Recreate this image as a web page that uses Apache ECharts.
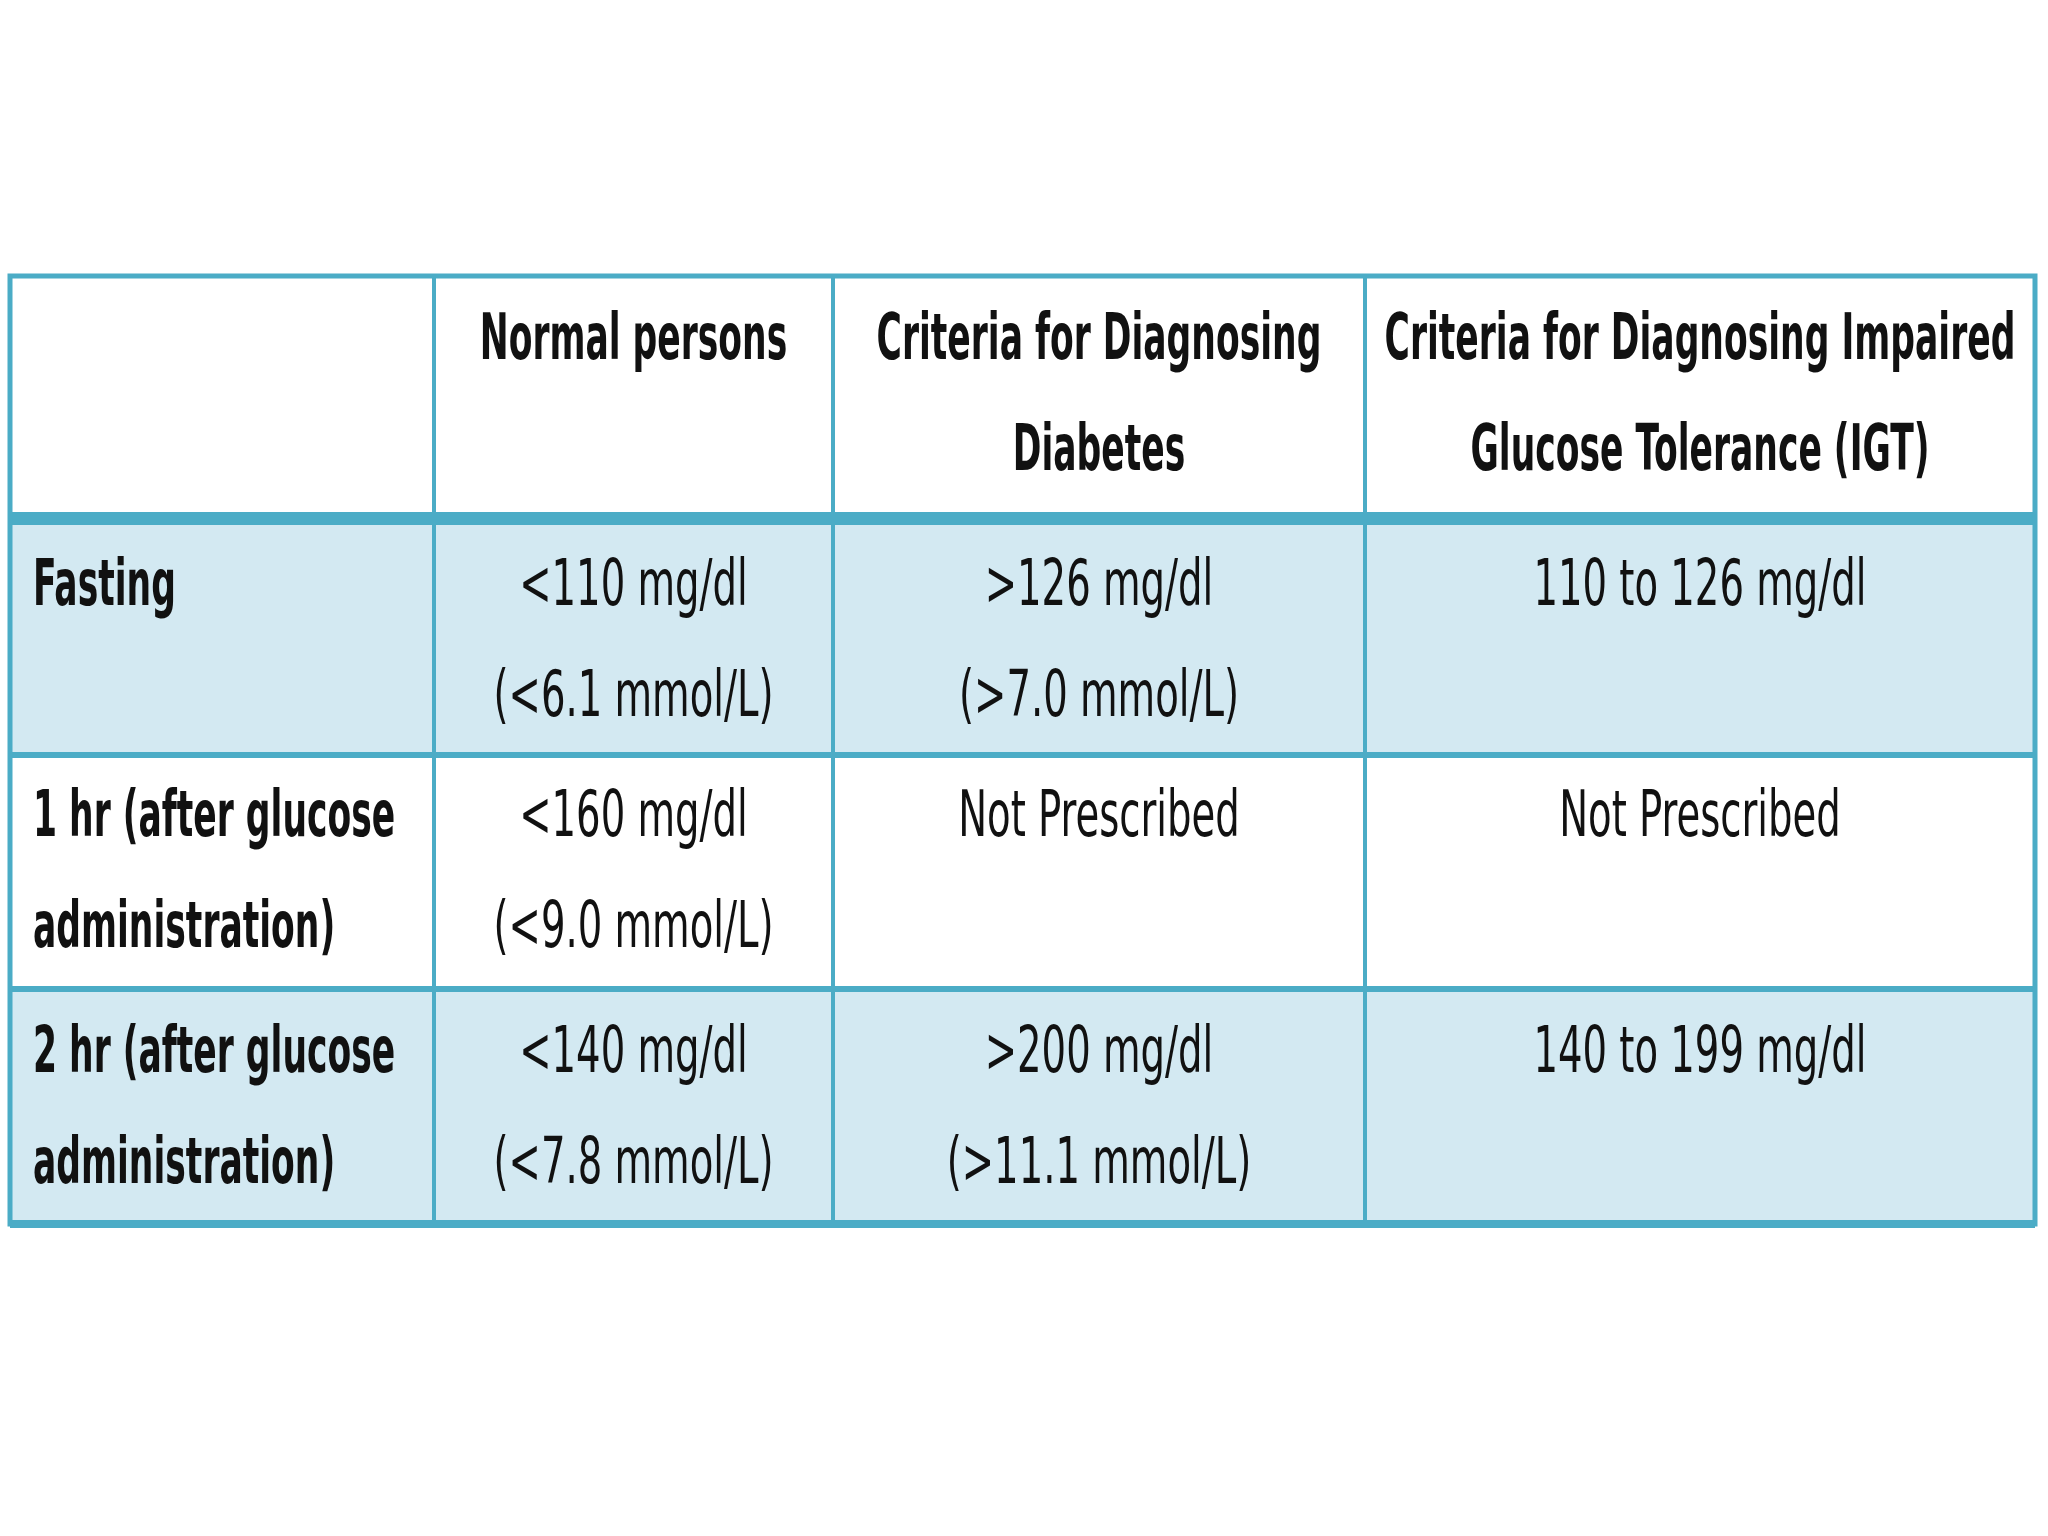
<!DOCTYPE html><html><head><meta charset="utf-8"><script src="https://cdn.jsdelivr.net/npm/echarts@6/dist/echarts.min.js"></script>
<style>body{margin:0}#c{width:2048px;height:1536px}</style></head><body><div id="c"></div><script>
const headers=[[""],["Normal persons"],["Criteria for Diagnosing","Diabetes"],["Criteria for Diagnosing Impaired","Glucose Tolerance (IGT)"]];
const rowLabels=[["Fasting"],["1 hr (after glucose","administration)"],["2 hr (after glucose","administration)"]];
const normal=[["<110 mg/dl","(<6.1 mmol/L)"],["<160 mg/dl","(<9.0 mmol/L)"],["<140 mg/dl","(<7.8 mmol/L)"]];
const diabetes=[[">126 mg/dl","(>7.0 mmol/L)"],["Not Prescribed"],[">200 mg/dl","(>11.1 mmol/L)"]];
const igt=[["110 to 126 mg/dl"],["Not Prescribed"],["140 to 199 mg/dl"]];
const colX=[10,434,833,1365,2035];
const rowY=[276,512,525,755,989,1224];
const C='#4bacc6',F='#d3e9f2',FONT='"Liberation Sans Narrow","DejaVu Sans Condensed",sans-serif';
const g=[];
const rows=[[0,1],[2,3],[3,4],[4,5]];
const fills=['#fff',F,'#fff',F];
rows.forEach((r,i)=>g.push({type:'rect',shape:{x:colX[0],y:rowY[r[0]],width:colX[4]-colX[0],height:rowY[r[1]]-rowY[r[0]]},style:{fill:fills[i]}}));
g.push({type:'rect',shape:{x:colX[0],y:rowY[1],width:colX[4]-colX[0],height:rowY[2]-rowY[1]},style:{fill:C}});
for(let k=1;k<4;k++)g.push({type:'rect',shape:{x:colX[k]-2,y:rowY[0],width:4,height:rowY[5]-rowY[0]},style:{fill:C}});
[3,4].forEach(k=>g.push({type:'rect',shape:{x:colX[0],y:rowY[k]-3,width:colX[4]-colX[0],height:6},style:{fill:C}}));
g.push({type:'rect',shape:{x:colX[0],y:rowY[0],width:colX[4]-colX[0],height:rowY[5]-rowY[0]},style:{fill:'none',stroke:C,lineWidth:5}});
g.push({type:'rect',shape:{x:colX[0],y:rowY[5]-4,width:colX[4]-colX[0],height:8},style:{fill:C}});
function txt(lines,x,y0,align,bold){lines.forEach((l,i)=>g.push({type:'text',x:x,y:y0+i*111,scaleX:bold?0.6:0.67,style:{text:l,fill:'#111',font:(bold?'bold ':'')+'64px '+FONT,textAlign:align,textVerticalAlign:'middle'}}));}
headers.forEach((h,k)=>txt(h,(colX[k]+colX[k+1])/2,342,'center',true));
const starts=[588,819,1055];
rowLabels.forEach((l,i)=>txt(l,33,starts[i],'left',true));
[normal,diabetes,igt].forEach((col,k)=>col.forEach((c,i)=>txt(c,(colX[k+1]+colX[k+2])/2,starts[i],'center',false)));
const ch=echarts.init(document.getElementById('c'));
ch.setOption({backgroundColor:'#fff',graphic:{elements:g}});
</script></body></html>
